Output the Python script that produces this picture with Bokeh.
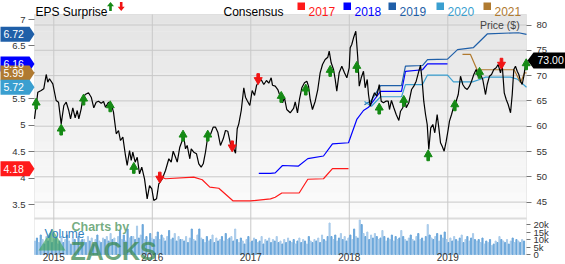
import numpy as np
from bokeh.plotting import figure
from bokeh.core.properties import value
from bokeh.models import (Range1d, LinearAxis, FixedTicker, Label, PolyAnnotation,
                          BoxAnnotation, Legend, LegendItem, NumeralTickFormatter)
from bokeh.embed import file_html
from bokeh.resources import INLINE

FONT = "Liberation Sans"

# ---------------- data ----------------
year_ticks = [2015, 2016, 2017, 2018, 2019]
year_labels = ["2015", "2016", "2017", "2018", "2019"]
price_ticks = [45, 50, 55, 60, 65, 70, 75, 80]
eps_ticks = [3.5, 4, 4.5, 5, 5.5, 6, 6.5, 7]
volume_ticks = [0, 5000, 10000, 15000, 20000]
volume_tick_labels = ["0", "5k", "10k", "15k", "20k"]

price_year = [
    2014.804, 2014.838, 2014.872, 2014.898, 2014.923, 2014.939, 2014.956, 2014.990, 2015.024, 2015.048,
    2015.075, 2015.102, 2015.126, 2015.152, 2015.170, 2015.193, 2015.217, 2015.238, 2015.254, 2015.278,
    2015.294, 2015.319, 2015.352, 2015.380, 2015.406, 2015.430, 2015.454, 2015.481, 2015.505, 2015.525,
    2015.555, 2015.583, 2015.606, 2015.634, 2015.657, 2015.677, 2015.701, 2015.725, 2015.745, 2015.769,
    2015.786, 2015.802, 2015.826, 2015.847, 2015.870, 2015.893, 2015.921, 2015.948, 2015.972, 2015.995,
    2016.015,
    2016.043, 2016.066, 2016.101, 2016.134, 2016.168, 2016.192, 2016.212, 2016.236, 2016.253, 2016.279,
    2016.304, 2016.320, 2016.337, 2016.354, 2016.381, 2016.395, 2016.421, 2016.449, 2016.472, 2016.496,
    2016.517, 2016.540, 2016.563, 2016.591, 2016.618, 2016.642, 2016.665, 2016.692, 2016.720, 2016.743,
    2016.766, 2016.794, 2016.821, 2016.845, 2016.862, 2016.878, 2016.903, 2016.929, 2016.946, 2016.963,
    2016.990, 2017.014, 2017.038, 2017.058, 2017.081, 2017.106, 2017.132, 2017.159, 2017.183,
    2017.207, 2017.220, 2017.248, 2017.274, 2017.298, 2017.322, 2017.342, 2017.365, 2017.400, 2017.434,
    2017.451, 2017.474, 2017.494, 2017.518, 2017.545, 2017.569, 2017.586, 2017.603, 2017.626, 2017.654,
    2017.680, 2017.704, 2017.728, 2017.755, 2017.782, 2017.796, 2017.816, 2017.840, 2017.857, 2017.873,
    2017.897, 2017.924, 2017.951, 2017.975, 2017.999, 2018.009, 2018.025, 2018.043, 2018.066, 2018.086,
    2018.101, 2018.121, 2018.144, 2018.161, 2018.182, 2018.195, 2018.212, 2018.236, 2018.256, 2018.279,
    2018.304, 2018.324, 2018.347, 2018.371,
    2018.395, 2018.408, 2018.428, 2018.452, 2018.476, 2018.503, 2018.520, 2018.543, 2018.563, 2018.578,
    2018.604, 2018.632, 2018.655, 2018.679, 2018.706, 2018.723, 2018.740, 2018.756, 2018.774, 2018.791,
    2018.807, 2018.827, 2018.848, 2018.868, 2018.892, 2018.909, 2018.926, 2018.943, 2018.963, 2018.984,
    2019.004, 2019.017, 2019.038, 2019.061, 2019.085, 2019.106, 2019.129, 2019.152, 2019.173, 2019.197,
    2019.220, 2019.241, 2019.264, 2019.288, 2019.308, 2019.332, 2019.355, 2019.383, 2019.400, 2019.423,
    2019.444, 2019.467, 2019.491, 2019.511, 2019.535, 2019.552, 2019.573, 2019.593, 2019.613, 2019.637,
    2019.654, 2019.670, 2019.687, 2019.705, 2019.721, 2019.738, 2019.755, 2019.772, 2019.789, 2019.799,
]
price = [
    61.46, 66.72, 67.06, 67.39, 70.22, 68.70, 69.37, 68.38, 65.08, 64.74,
    60.47, 64.09, 64.74, 63.10, 61.46, 63.64, 61.66, 63.10, 61.46, 63.44,
    65.42, 66.26, 66.60, 65.73, 63.64, 64.74, 64.94, 64.55, 64.88, 63.75,
    64.74, 64.43, 62.77, 58.50, 59.15, 57.17, 57.83, 54.55, 52.23, 55.20,
    53.22, 54.86, 52.89, 53.87, 50.59, 51.90, 49.60, 45.65, 48.28, 47.63,
    45.32,
    45.65, 48.62, 49.60, 51.25, 53.56, 52.89, 55.06, 53.87, 52.89, 55.85,
    57.17, 57.83, 55.53, 56.19, 53.56, 55.53, 54.86, 54.55, 52.57, 51.90,
    52.57, 54.86, 57.96, 58.36, 59.80, 59.80, 58.81, 56.19, 57.51, 59.15,
    59.01, 56.52, 55.85, 54.66, 59.49, 60.47, 63.10, 67.59, 65.73, 65.08,
    64.09, 67.06, 66.07, 68.04, 68.89, 69.17, 68.24, 69.03, 68.50,
    69.57, 68.10, 67.91, 67.25, 65.93, 64.62, 65.61, 63.30, 62.65, 63.50,
    64.82, 62.65, 65.28, 67.59, 68.58, 68.89, 67.91, 65.28, 63.30, 64.94,
    67.25, 70.55, 72.19, 73.18, 73.64, 74.82, 72.53, 71.21, 69.23, 66.92,
    70.55, 71.86, 70.55, 69.57, 71.54, 75.49, 76.15, 77.47, 78.77, 73.52,
    67.91, 69.57, 70.87, 67.59, 69.23, 66.26, 63.95, 65.61, 66.60, 65.93,
    68.24, 64.94, 64.62, 64.94,
    64.94, 63.30, 65.08, 63.64, 62.31, 61.13, 62.96, 63.64, 65.61, 63.64,
    64.62, 67.25, 67.91, 68.89, 70.87, 72.06, 68.89, 64.94, 62.31, 60.34,
    55.40, 59.68, 60.34, 58.70, 62.31, 59.68, 56.72, 56.05, 55.06, 57.04,
    59.35, 60.99, 62.31, 63.95, 64.94, 66.26, 69.88, 68.24, 67.59, 67.25,
    67.91, 68.89, 70.22, 71.21, 69.88, 70.22, 69.23, 66.26, 68.24, 69.88,
    70.22, 71.21, 71.54, 72.19, 70.55, 72.19, 66.60, 65.28, 64.29, 62.65,
    66.26, 71.21, 71.86, 70.87, 70.22, 68.89, 68.24, 69.88, 72.19, 73.00,
]
last_price = 73.00

beat_year = [2014.821, 2015.075, 2015.302, 2015.573, 2015.812, 2016.312, 2016.563, 2017.309, 2017.558,
             2017.806, 2018.076, 2018.304, 2018.553, 2018.801, 2019.071, 2019.322, 2019.796]
beat_price = [64.29, 59.15, 65.08, 63.75, 51.58, 57.96, 57.96, 65.61, 67.06,
              70.75, 71.54, 63.30, 64.82, 54.07, 63.95, 70.36, 72.06]
miss_year = [2016.076, 2016.811, 2017.075, 2019.545]
miss_price = [50.02, 56.19, 69.49, 72.53]

c2017_year = [2016.066, 2016.134, 2016.421, 2016.507, 2016.584, 2016.675, 2016.821, 2016.997, 2017.200,
              2017.248, 2017.315, 2017.491, 2017.579, 2017.738, 2017.829, 2017.992]
c2017 = [4.04, 3.99, 4.02, 3.97, 3.83, 3.81, 3.57, 3.57, 3.61, 3.64, 3.72, 3.72, 3.98, 3.99, 4.18, 4.18]
c2018_year = [2017.081, 2017.200, 2017.248, 2017.322, 2017.484, 2017.579, 2017.738, 2017.829, 2017.992,
              2018.076, 2018.144, 2018.195, 2018.317, 2018.530, 2018.570, 2018.743, 2018.794, 2018.997]
c2018 = [4.09, 4.09, 4.10, 4.24, 4.23, 4.37, 4.42, 4.65, 4.67, 5.11, 5.28, 5.34, 5.64, 5.64, 6.02, 6.05, 6.16, 6.16]
c2019_year = [2018.154, 2018.225, 2018.317, 2018.530, 2018.570, 2018.743, 2018.794, 2018.997, 2019.099,
              2019.261, 2019.403, 2019.718, 2019.799]
c2019 = [5.39, 5.47, 5.75, 5.75, 6.12, 6.13, 6.24, 6.25, 6.43, 6.47, 6.73, 6.75, 6.72]
c2020_year = [2018.154, 2018.225, 2018.317, 2018.530, 2018.570, 2018.743, 2018.794, 2018.997, 2019.058,
              2019.251, 2019.332, 2019.383, 2019.637, 2019.708, 2019.799]
c2020 = [5.45, 5.36, 5.54, 5.54, 5.77, 5.77, 5.95, 5.95, 5.82, 5.82, 5.87, 5.91, 5.91, 5.87, 5.72]
c2021_year = [2019.149, 2019.230, 2019.297, 2019.673, 2019.738, 2019.779, 2019.799]
c2021 = [6.34, 6.34, 6.05, 6.05, 5.81, 5.99, 5.99]

consensus_names = ["2017", "2018", "2019", "2020", "2021"]
consensus_colors = ["#ff1a1a", "#0000ff", "#1f5fa8", "#3a9fd0", "#b07a30"]
consensus_last = [4.18, 6.16, 6.72, 5.72, 5.99]

volume_start = 2014.81  # first weekly bar
volume_k = [
    9, 11, 8, 13, 10, 7, 12, 9, 14, 8, 10, 11, 7, 9, 12, 8, 10, 13, 9, 7, 11, 10, 8, 12, 9, 10,
    10, 8, 12, 9, 11, 7, 10, 13, 9, 8, 11, 10, 12, 9, 14, 10, 11, 8, 12, 16, 10, 13, 9, 17, 11, 12,
    12, 10, 19, 11, 13, 20, 10, 12, 9, 14, 11, 10, 12, 15, 10, 13, 11, 9, 12, 16, 10, 11, 14, 9, 12, 10,
    10, 9, 12, 8, 11, 17, 10, 9, 13, 17, 11, 10, 8, 12, 9, 10, 13, 8, 11, 9, 10, 12, 9, 14, 10, 11,
    12, 9, 17, 10, 8, 11, 9, 7, 10, 12, 8, 9, 11, 10, 8, 9, 12, 7, 10, 9, 11, 8, 10, 9, 12, 8,
    9, 7, 10, 8, 11, 9, 8, 10, 7, 9, 11, 8, 10, 9, 7, 12, 9, 8, 10, 9, 11, 8, 13, 10, 9, 12,
    21, 12, 10, 13, 9, 11, 14, 10, 12, 9, 11, 13, 10, 17, 12, 11, 23, 20, 14, 12, 15, 10, 13, 11, 14, 12,
    10, 11, 16, 12, 9, 11, 10, 13, 9, 12, 10, 11, 16, 12, 10, 9, 11, 13, 10, 9, 12, 14, 10, 11, 9, 12,
    20, 13, 11, 10, 12, 14, 9, 13, 11, 15, 10, 8, 11, 9, 12, 10, 9, 11, 13, 8, 10, 12, 9, 11, 14, 10,
    9, 10, 8, 11, 7, 9, 8, 10, 6, 7, 9, 8, 12, 10, 9, 8, 10, 7, 9, 11, 8, 10, 9, 8, 10, 9,
]

GREEN = "#158a15"
RED = "#f01414"

# ---------------- scales (whole canvas is the frame) ----------------
PX_PER_YEAR, X_2015 = 98.5, 53.3            # pixel position of 2015
PX_PER_DOLLAR, Y_80 = 5.06, 24.5            # pixel position of $80
PX_PER_EPS, Y_EPS7 = 52.9, 19.0             # pixel position of EPS 7
PX_PER_KVOL, Y_VOL0 = 1.5, 254.0            # pixel position of 0 volume
W, H = 565, 264


def xr(px):
    return 2015 + (px - X_2015) / PX_PER_YEAR


def pr(py):
    return 80 - (py - Y_80) / PX_PER_DOLLAR


p = figure(width=W, height=H, x_range=Range1d(xr(0), xr(W)), y_range=Range1d(pr(H), pr(0)),
           output_backend="svg", toolbar_location=None, x_axis_location=None, y_axis_location=None,
           min_border=0, min_border_left=0, min_border_right=0, min_border_top=0, min_border_bottom=0,
           background_fill_color="white", border_fill_color="white", outline_line_color=None)
p.extra_y_ranges = {
    "eps": Range1d(7 - (H - Y_EPS7) / PX_PER_EPS, 7 + Y_EPS7 / PX_PER_EPS),
    "vol": Range1d(-(H - Y_VOL0) / PX_PER_KVOL * 1000, Y_VOL0 / PX_PER_KVOL * 1000),
}
p.grid.visible = False

XL, XR = xr(34), xr(526)
TOP, PBOT, BAND, VBOT = pr(14), pr(217), pr(219), pr(254)

# price panel background gradient
edges = np.linspace(PBOT, TOP, 25)
for i in range(24):
    t = (i + 0.5) / 24.0
    c = int(round(252 - t * (252 - 228)))
    p.add_layout(BoxAnnotation(left=XL, right=XR, bottom=edges[i], top=edges[i + 1] + 0.05,
                               fill_color=(c, c, c), fill_alpha=1, line_alpha=0, level="image"))
p.add_layout(BoxAnnotation(left=XL, right=XR, bottom=BAND, top=PBOT, fill_color="#dcdcdc",
                           fill_alpha=1, line_alpha=0, level="image"))

# grid lines
p.segment(x0=year_ticks, y0=[VBOT] * 5, x1=year_ticks, y1=[TOP] * 5, color="#c8c8c8", line_width=1,
          level="underlay")
p.segment(x0=[XL] * len(price_ticks), y0=price_ticks, x1=[XR] * len(price_ticks), y1=price_ticks,
          color="#c8c8c8", line_width=1, level="underlay")
p.add_layout(BoxAnnotation(left=XL, right=XR, bottom=VBOT, top=TOP, fill_alpha=0,
                           line_color="#c4c4c4", line_width=1, level="underlay"))


def style_axis(ax, tick_out, standoff, size="9.5px"):
    ax.axis_line_color = None
    ax.major_tick_line_color = "#777777"
    ax.major_tick_out = tick_out
    ax.major_tick_in = 0
    ax.minor_tick_line_color = None
    ax.major_label_text_font = FONT
    ax.major_label_text_font_size = size
    ax.major_label_text_color = "#333333"
    ax.major_label_standoff = standoff


left_axis = LinearAxis(y_range_name="eps", fixed_location=XL, ticker=FixedTicker(ticks=eps_ticks),
                       formatter=NumeralTickFormatter(format="0.[0]"))
style_axis(left_axis, 6, 3)
p.add_layout(left_axis, "left")

price_axis = LinearAxis(fixed_location=XR, ticker=FixedTicker(ticks=price_ticks))
style_axis(price_axis, 5, 5)
p.add_layout(price_axis, "right")

vol_axis = LinearAxis(y_range_name="vol", fixed_location=XR, ticker=FixedTicker(ticks=volume_ticks),
                      major_label_overrides={t: l for t, l in zip(volume_ticks, volume_tick_labels)})
style_axis(vol_axis, 4, 3)
p.add_layout(vol_axis, "right")

x_axis = LinearAxis(y_range_name="vol", fixed_location=0, ticker=FixedTicker(ticks=year_ticks),
                    major_label_overrides={t: l for t, l in zip(year_ticks, year_labels)})
style_axis(x_axis, 0, -2, "10px")
x_axis.major_tick_line_color = None
p.add_layout(x_axis, "below")

# volume bars
vol_x = [volume_start + i * 7 / 365.25 for i in range(len(volume_k))]
vol_colors = ["#a9cbea" if i % 2 == 0 else "#6aa6da" for i in range(len(volume_k))]
p.vbar(x=vol_x, top=[v * 1000 for v in volume_k], bottom=0, width=0.6 * 7 / 365.25, color=vol_colors,
       y_range_name="vol")

# consensus lines
for xs, ys, col in zip([c2017_year, c2018_year, c2019_year, c2020_year, c2021_year],
                       [c2017, c2018, c2019, c2020, c2021], consensus_colors):
    p.line(xs, ys, y_range_name="eps", color=col, line_width=1.2)

# price line
p.line(price_year, price, color="black", line_width=1.2)

# EPS surprise arrows
p.scatter(beat_year, [v + 0.35 for v in beat_price], marker="triangle", size=8, color=GREEN)
p.rect(beat_year, [v - 0.45 for v in beat_price], width=2.6, height=4.5, width_units="screen",
       height_units="screen", color=GREEN)
p.scatter(miss_year, [v - 0.35 for v in miss_price], marker="inverted_triangle", size=8, color=RED)
p.rect(miss_year, [v + 0.45 for v in miss_price], width=2.6, height=4.5, width_units="screen",
       height_units="screen", color=RED)

# legend for price
dummy = p.line([], [], color="black", line_width=5, line_cap="round")
leg = Legend(items=[LegendItem(label="Price ($)", renderers=[dummy])], location=(463, H - 31),
             orientation="vertical", padding=0, margin=0, spacing=0, glyph_width=11, glyph_height=10,
             label_standoff=6, label_height=10, label_text_font=FONT, label_text_font_size="10.5px",
             background_fill_alpha=0, border_line_alpha=0)
p.add_layout(leg, "center")

# left value callouts (current consensus), as glyphs over the left axis
order = [2, 1, 4, 3, 0]
h = 7.5 / PX_PER_EPS
call_xs = [[xr(0), xr(29), xr(34), xr(29), xr(0)] for _ in order]
call_ys = [[consensus_last[k] + h, consensus_last[k] + h, consensus_last[k],
            consensus_last[k] - h, consensus_last[k] - h] for k in order]
p.patches(call_xs, call_ys, fill_color=[consensus_colors[k] for k in order], fill_alpha=1,
          line_alpha=0, y_range_name="eps", level="overlay")
p.text(x=[xr(3)] * len(order), y=[consensus_last[k] for k in order],
       text=[f"{consensus_last[k]:.2f}" for k in order], text_color="white",
       text_font=value(FONT), text_font_size="10.5px", text_baseline="middle",
       y_range_name="eps", level="overlay")

# right price callout
hp = 8 / PX_PER_DOLLAR
p.patches([[xr(527), xr(533), xr(565), xr(565), xr(533)]],
          [[last_price, last_price + hp, last_price + hp, last_price - hp, last_price - hp]],
          fill_color="black", fill_alpha=1, line_alpha=0, level="overlay")
p.text(x=[xr(537)], y=[last_price], text=[f"{last_price:.2f}"], text_color="white",
       text_font=value(FONT), text_font_size="10.5px", text_baseline="middle", level="overlay")


def arrow(cx, cy, up=True):
    s = -1 if up else 1
    xs = [cx, cx + 3.5, cx + 1.3, cx + 1.3, cx - 1.3, cx - 1.3, cx - 3.5]
    ys = [cy + s * 4.5, cy + s * 0.3, cy + s * 0.3, cy - s * 4.5, cy - s * 4.5, cy + s * 0.3, cy + s * 0.3]
    return xs, ys


def canvas_text(x, y, text, color="black", size="12px", style="normal", alpha=1.0):
    p.add_layout(Label(x=x, y=y, x_units="canvas", y_units="canvas", text=text, text_color=color,
                       text_alpha=alpha, text_font=FONT, text_font_size=size, text_font_style=style,
                       text_baseline="alphabetic"))


# header
canvas_text(35, 11, "EPS Surprise")
for cx, up, col in [(110, True, GREEN), (120.7, False, RED)]:
    axs, ays = arrow(cx, 6, up)
    p.add_layout(PolyAnnotation(xs=axs, ys=ays, xs_units="canvas", ys_units="canvas",
                                fill_color=col, fill_alpha=1, line_alpha=0))
canvas_text(223, 11, "Consensus")
for sx, name, col in zip([297, 343, 388, 436, 483], consensus_names, consensus_colors):
    p.add_layout(PolyAnnotation(xs=[sx, sx + 7.5, sx + 7.5, sx], ys=[2, 2, 9.5, 9.5],
                                xs_units="canvas", ys_units="canvas", fill_color=col,
                                fill_alpha=1, line_alpha=0))
    canvas_text(sx + 11, 11, name, col)

# watermark + volume label
p.add_layout(PolyAnnotation(xs=[38, 51.7, 65], ys=[250, 228.3, 250], xs_units="canvas", ys_units="canvas",
                            fill_color="#3fa35a", fill_alpha=0.65, line_alpha=0))
canvas_text(71, 226.5, "Charts by", "#5c9e6c", "12.5px", "bold", 0.85)
canvas_text(70, 250, "ZACKS", "#3b8a55", "25px", "bold", 0.75)
canvas_text(44, 233, "Volume", "#2f7fc0", "12px")

open("out.html", "w").write(file_html(p, INLINE))
